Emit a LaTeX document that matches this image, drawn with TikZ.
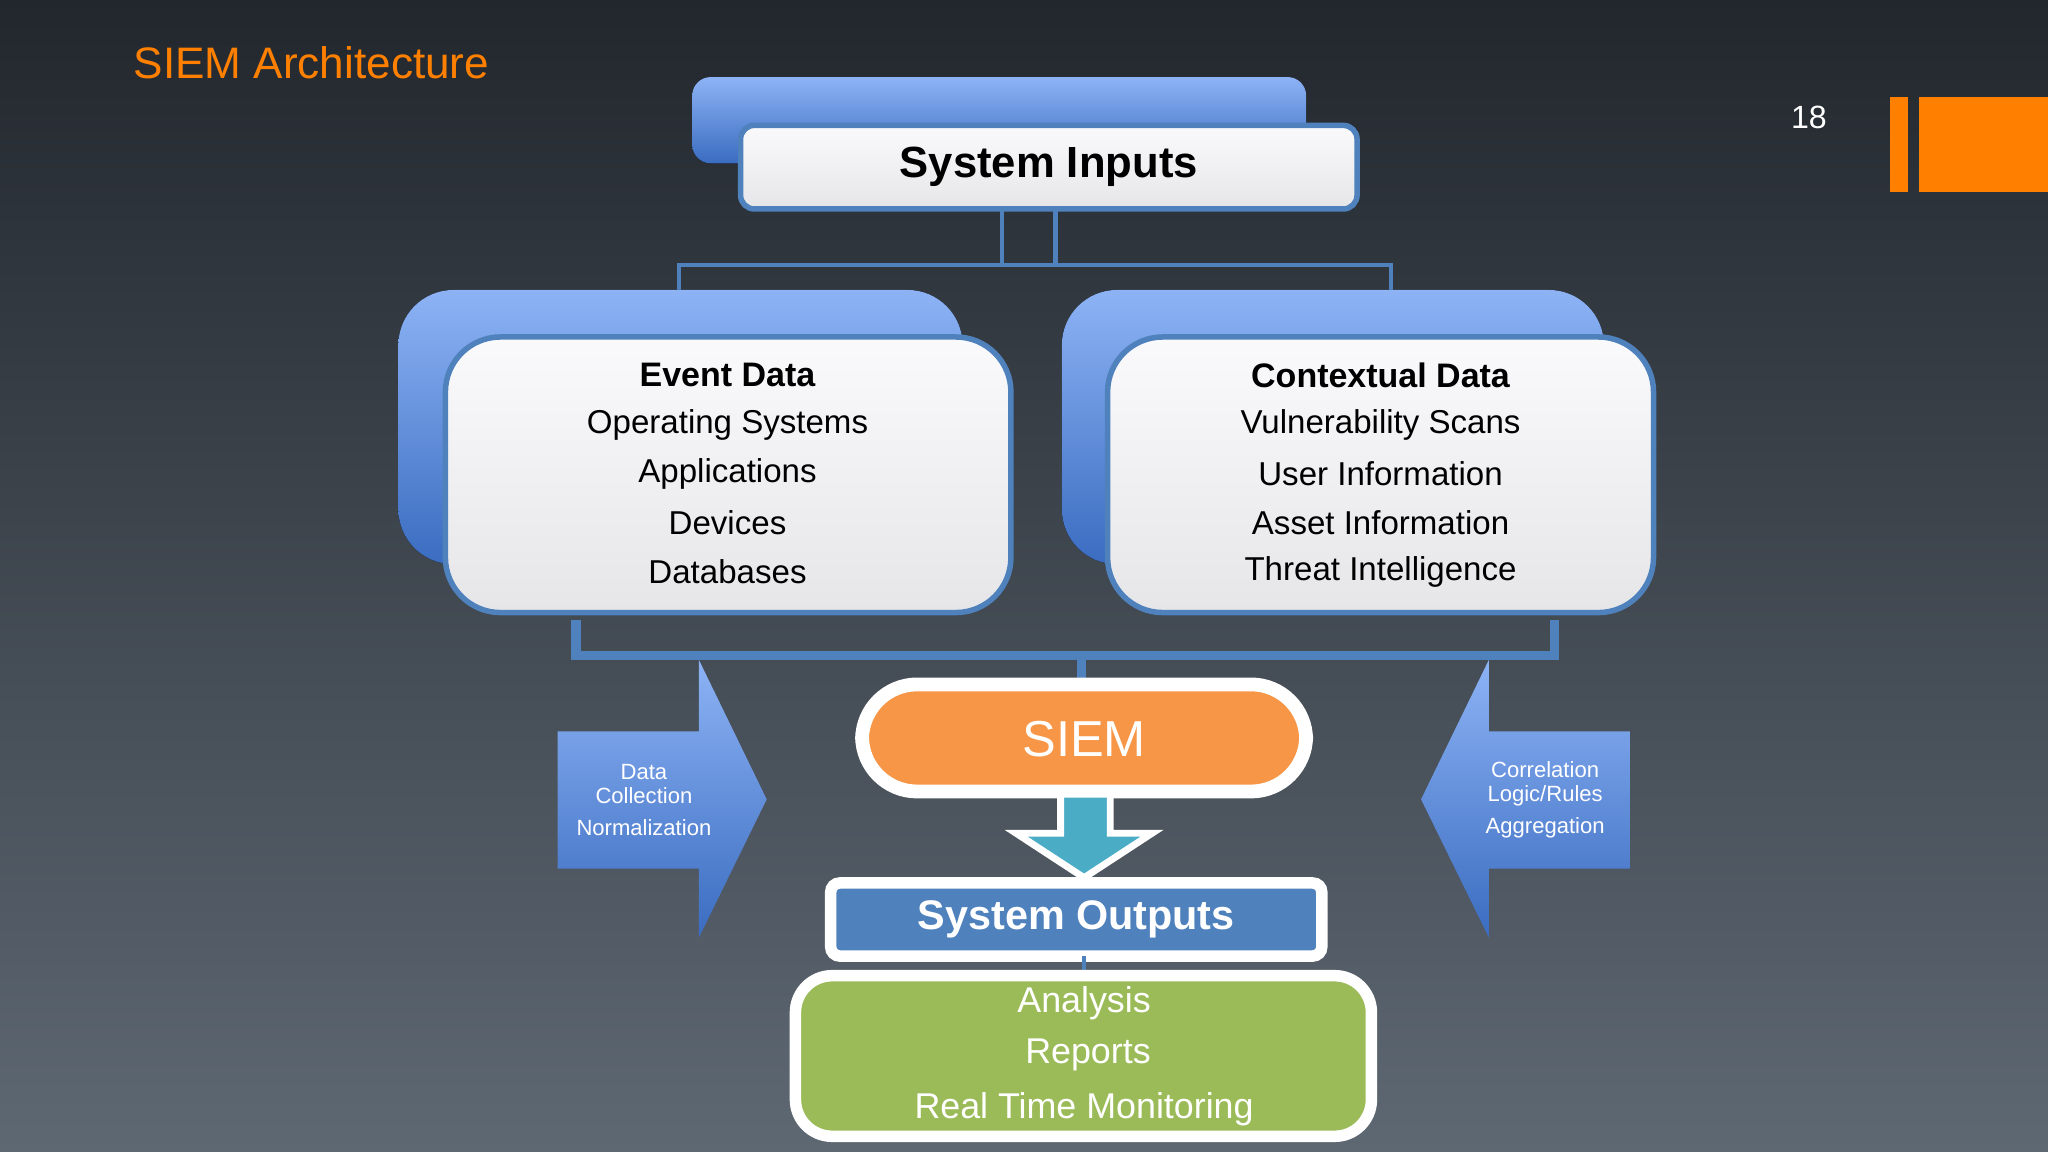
\documentclass[tikz,border=0pt]{standalone}
\usepackage{fontspec}
\setmainfont{Liberation Sans}
\usetikzlibrary{shapes.arrows}
\definecolor{bgtop}{HTML}{22272D}
\definecolor{bgbot}{HTML}{5E6873}
\definecolor{org}{HTML}{FF8000}
\definecolor{siem}{HTML}{F79646}
\definecolor{bl}{HTML}{4F81BD}
\definecolor{blL}{HTML}{8DB3F5}
\definecolor{blD}{HTML}{3A6CC0}
\definecolor{teal}{HTML}{4BACC6}
\definecolor{grn}{HTML}{9BBB59}
\definecolor{frontT}{HTML}{FAFAFC}
\definecolor{frontB}{HTML}{E6E6E8}
\tikzset{
 back/.style={rounded corners=12, top color=blL, bottom color=blD, draw=none},
 front/.style={rounded corners=12, top color=frontT, bottom color=frontB, draw=bl, line width=1.2pt},
 conn/.style={draw=bl, line width=1pt},
 bracket/.style={draw=bl, line width=2pt},
 wbox/.style={draw=white, line width=2.5pt, rounded corners=8},
 txt/.style={font=\fontsize{7.2}{9}\selectfont, text=black},
 small/.style={font=\fontsize{4.8}{5.2}\selectfont, text=white, align=center},
}
\begin{document}
\begin{tikzpicture}[x=0.01cm,y=-0.01cm]
\shade[top color=bgtop,bottom color=bgbot] (0,0) rectangle (1568,882);
\useasboundingbox (0,0) rectangle (1568,882);
\node[anchor=west,text=org,font=\fontsize{9.6}{10}\selectfont] (title) at (90,48) {SIEM Architecture};
\node[text=white,font=\fontsize{7}{8}\selectfont] (pg) at (1385,90) {18};
\fill[org] (1447,74) rectangle (1461,147);
\fill[org] (1469,74) rectangle (1568,147);
% system inputs
\fill[back,rounded corners=4] (530,59) rectangle (1000,125);
\draw[front,rounded corners=3] (567,96) rectangle (1039,160);
\node[font=\bfseries\fontsize{9.5}{10}\selectfont] (si) at (803,128) {System Inputs};
\draw[conn] (767,160) -- (767,203) (808,160) -- (808,203) (520,222) -- (520,203) -- (1065,203) -- (1065,222);
% event data
\fill[back] (305,222) rectangle (737,432);
\draw[front] (341,258) rectangle (774,469);
\node[txt,font=\bfseries\fontsize{7.4}{9}\selectfont] (ed) at (557,287) {Event Data};
\node[txt] at (557,325) {Operating Systems};
\node[txt] at (557,363) {Applications};
\node[txt] at (557,400) {Devices};
\node[txt] at (557,438) {Databases};
% contextual
\fill[back] (813,222) rectangle (1228,432);
\draw[front] (848,258) rectangle (1266,469);
\node[txt,font=\bfseries\fontsize{7.4}{9}\selectfont] (cd) at (1057,287) {Contextual Data};
\node[txt] at (1057,325) {Vulnerability Scans};
\node[txt] at (1057,363) {User Information};
\node[txt] at (1057,400) {Asset Information};
\node[txt] at (1057,438) {Threat Intelligence};
% bracket
\draw[bracket] (441,475) -- (441,502) -- (1190,502) -- (1190,475);
\draw[bracket] (828,502) -- (828,524);
% side arrows
\shade[top color=blL,bottom color=blD] (427,560) -- (535,560) -- (535,505) -- (587,612) -- (535,718) -- (535,665) -- (427,665) -- cycle;
\node[small] (la) at (493,600) {Data\\Collection};
\node[small] at (493,634) {Normalization};
\shade[top color=blL,bottom color=blD] (1248,560) -- (1140,560) -- (1140,505) -- (1088,612) -- (1140,718) -- (1140,665) -- (1248,665) -- cycle;
\node[small] (ra) at (1183,600) {Correlation\\Logic/Rules};
\node[small] at (1183,634) {Aggregation};
% SIEM
\draw[wbox,fill=siem,rounded corners=12,line width=3pt] (660,524) rectangle (1000,606);
\node[text=white,font=\fontsize{11}{12}\selectfont] (s) at (830,566) {SIEM};
\draw[draw=white,line width=1.5pt,fill=teal] (812,608) -- (850,608) -- (850,638) -- (882,638) -- (830,672) -- (778,638) -- (812,638) -- cycle;
% outputs
\draw[wbox,fill=bl,rounded corners=2] (636,676) rectangle (1012,732);
\node[text=white,font=\bfseries\fontsize{9}{10}\selectfont] (so) at (824,704) {System Outputs};
\draw[conn] (830,732) -- (830,747);
\draw[wbox,fill=grn] (609,747) rectangle (1050,870);
\node[text=white,font=\fontsize{7.8}{9}\selectfont] (g1) at (830,768) {Analysis};
\node[text=white,font=\fontsize{7.8}{9}\selectfont] at (833,808) {Reports};
\node[text=white,font=\fontsize{7.8}{9}\selectfont] at (830,849) {Real Time Monitoring};
\end{tikzpicture}
\end{document}
